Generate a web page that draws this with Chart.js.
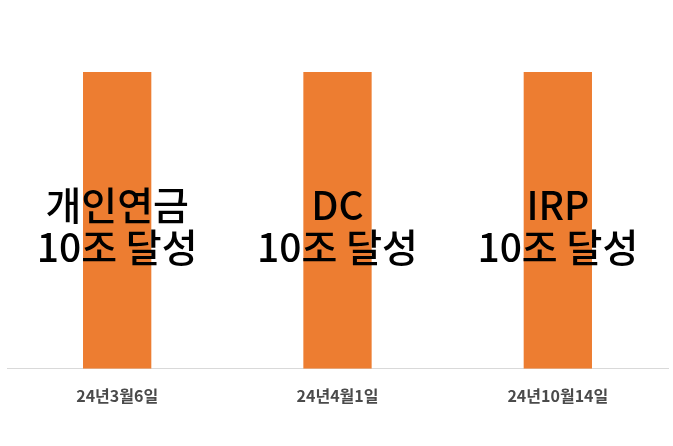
<!DOCTYPE html>
<html>
<head>
<meta charset="utf-8">
<script src="https://cdn.jsdelivr.net/npm/chart.js@4"></script>
<style>
  html, body { margin: 0; padding: 0; background: #fff; }
  #wrap { width: 673px; height: 446px; }
</style>
</head>
<body>
<div id="wrap"><canvas id="chart"></canvas></div>
<script>
// data
const categories = ['24년3월6일', '24년4월1일', '24년10월14일'];
const values = [10, 10, 10];
const overlayLines = [
  ['개인연금', '10조 달성'],
  ['DC', '10조 달성'],
  ['IRP', '10조 달성']
];

// big text drawn over each bar
const overlayText = {
  id: 'overlayText',
  afterDatasetsDraw(chart) {
    const ctx = chart.ctx;
    const meta = chart.getDatasetMeta(0);
    ctx.save();
    ctx.fillStyle = '#000';
    ctx.font = '500 39px "Noto Sans CJK KR", "Noto Sans", sans-serif';
    ctx.textAlign = 'center';
    ctx.textBaseline = 'middle';
    meta.data.forEach((bar, i) => {
      const lines = overlayLines[i];
      ctx.fillText(lines[0], bar.x, 205);
      ctx.fillText(lines[1], bar.x, 247);
    });
    ctx.restore();
  }
};

new Chart(document.getElementById('chart'), {
  type: 'bar',
  data: {
    labels: categories,
    datasets: [{
      data: values,
      backgroundColor: '#ED7D31',
      barPercentage: 0.31,
      categoryPercentage: 1
    }]
  },
  options: {
    responsive: true,
    maintainAspectRatio: false,
    animation: false,
    layout: { padding: { top: 72, left: 7, right: 5, bottom: 30 } },
    plugins: { legend: { display: false }, tooltip: { enabled: false } },
    scales: {
      x: {
        grid: { display: false },
        border: { color: '#d9d9d9', width: 1 },
        ticks: {
          color: '#4a4a4a',
          padding: 10,
          font: { size: 16, weight: 'bold', family: '"Noto Sans CJK KR", sans-serif' }
        }
      },
      y: { display: false, min: 0, max: 10 }
    }
  },
  plugins: [overlayText]
});
</script>
</body>
</html>
